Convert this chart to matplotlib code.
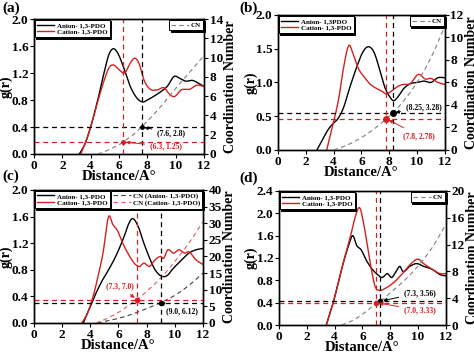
"""
Four panel g(r) / coordination number comparison, anion vs cation around 1,3-PDO.
"""
import numpy as np
import matplotlib
matplotlib.use('Agg')
import matplotlib.pyplot as plt

plt.rcParams['font.family'] = ['Liberation Serif', 'DejaVu Serif']
plt.rcParams['font.weight'] = 'bold'
plt.rcParams['axes.labelweight'] = 'bold'
plt.rcParams['axes.linewidth'] = 1.0

RED = '#d42020'
GRAY = '#808080'

# ---- panel (a)
a_an_x = [3.2, 3.6, 4.0, 4.5, 5.0, 5.3, 5.6, 5.9, 6.3, 6.8, 7.3, 7.7, 8.0, 8.5, 9.0, 9.4, 9.9, 10.3, 10.7, 11.2, 11.6, 12.0]
a_an_y = [0.0, 0.15, 0.4, 0.8, 1.25, 1.48, 1.56, 1.5, 1.3, 1.0, 0.82, 0.77, 0.8, 0.86, 0.93, 1.0, 1.15, 1.12, 1.08, 1.09, 1.05, 1.0]
a_ca_x = [3.3, 3.6, 4.0, 4.5, 5.0, 5.3, 5.6, 6.0, 6.4, 6.8, 7.1, 7.4, 7.8, 8.2, 8.7, 9.2, 9.5, 9.9, 10.4, 11.0, 11.5, 12.0]
a_ca_y = [0.0, 0.15, 0.4, 0.78, 1.12, 1.28, 1.32, 1.25, 1.2, 1.35, 1.42, 1.35, 1.08, 0.96, 0.95, 0.98, 0.9, 0.85, 0.95, 0.96, 1.02, 1.0]
a_cn_x = [4.5, 5.0, 5.5, 6.0, 6.3, 7.0, 7.6, 8.0, 9.0, 10.0, 11.0, 12.0]
a_cn_y = [0.0, 0.25, 0.6, 0.95, 1.25, 2.0, 2.8, 3.4, 5.0, 6.8, 8.5, 10.2]
a_pts = [(7.6, 2.8, '(7.6, 2.8)', 'k'), (6.3, 1.25, '(6.3, 1.25)', RED)]

# ---- panel (b)
b_an_x = [2.8, 3.2, 3.6, 4.0, 4.3, 4.7, 5.2, 5.7, 6.1, 6.5, 6.9, 7.3, 7.7, 8.0, 8.3, 8.6, 9.0, 9.5, 10.0, 10.5, 11.0, 11.5, 12.0]
b_an_y = [0.0, 0.15, 0.3, 0.4, 0.46, 0.62, 0.95, 1.25, 1.45, 1.53, 1.45, 1.2, 0.92, 0.8, 0.73, 0.78, 0.9, 0.98, 1.0, 1.02, 1.0, 1.07, 1.07]
b_ca_x = [3.5, 3.8, 4.1, 4.4, 4.7, 5.1, 5.4, 5.8, 6.2, 6.6, 7.0, 7.4, 7.8, 8.2, 8.6, 9.0, 9.5, 10.1, 10.6, 11.0, 11.5, 12.0]
b_ca_y = [0.0, 0.25, 0.5, 0.8, 1.2, 1.55, 1.42, 1.2, 1.08, 0.98, 0.92, 0.88, 0.83, 0.88, 0.94, 0.97, 0.98, 1.12, 1.05, 1.06, 1.0, 0.97]
b_cn_x = [4.0, 4.5, 5.0, 5.5, 6.0, 6.5, 7.0, 7.8, 8.25, 9.0, 10.0, 11.0, 12.0]
b_cn_y = [0.0, 0.2, 0.45, 0.75, 1.1, 1.5, 1.95, 2.78, 3.28, 4.3, 6.0, 8.2, 11.0]
b_pts = [(8.25, 3.28, '(8.25, 3.28)', 'k'), (7.8, 2.78, '(7.8, 2.78)', RED)]

# ---- panel (c)
c_an_x = [3.5, 3.8, 4.3, 4.8, 5.3, 5.8, 6.4, 6.7, 7.0, 7.4, 7.8, 8.2, 8.6, 9.1, 9.5, 9.8, 10.5, 11.0, 11.5, 12.0]
c_an_y = [0.0, 0.15, 0.4, 0.62, 0.8, 1.0, 1.3, 1.48, 1.57, 1.45, 1.2, 0.98, 0.8, 0.7, 0.72, 0.8, 0.95, 1.05, 1.1, 1.12]
c_ca_x = [3.4, 3.8, 4.2, 4.6, 4.9, 5.3, 5.6, 5.9, 6.3, 6.8, 7.2, 7.5, 7.8, 8.2, 8.6, 9.0, 9.2, 9.5, 9.9, 10.3, 10.7, 11.0, 11.5, 12.0]
c_ca_y = [0.0, 0.15, 0.4, 0.75, 1.05, 1.6, 1.48, 1.4, 1.2, 1.0, 0.88, 0.85, 0.9, 0.85, 0.95, 1.0, 0.97, 1.1, 1.05, 1.1, 1.05, 1.07, 0.95, 0.88]
c_cna_x = [4.5, 5.5, 6.5, 7.5, 8.5, 9.0, 10.0, 11.0, 12.0]
c_cna_y = [0.0, 0.9, 2.0, 3.5, 5.2, 6.12, 8.3, 11.3, 15.0]
c_cnc_x = [4.4, 5.0, 6.0, 6.8, 7.3, 8.0, 9.0, 10.0, 11.0, 12.0]
c_cnc_y = [0.0, 1.0, 3.2, 5.5, 7.0, 9.5, 13.5, 18.5, 24.0, 30.5]
c_pts = [(7.3, 7.0, '(7.3, 7.0)', RED), (9.0, 6.12, '(9.0, 6.12)', 'k')]

# ---- panel (d)
d_an_x = [3.4, 3.9, 4.5, 5.0, 5.3, 5.6, 5.9, 6.3, 6.7, 7.1, 7.4, 7.8, 8.1, 8.4, 8.7, 8.9, 9.4, 9.9, 10.4, 11.0, 11.6, 12.0]
d_an_y = [0.0, 0.4, 1.0, 1.42, 1.6, 1.42, 1.35, 1.15, 1.0, 0.9, 0.85, 0.92, 0.85, 0.95, 1.05, 0.96, 1.05, 1.1, 1.05, 1.0, 0.9, 0.88]
d_ca_x = [3.4, 3.9, 4.5, 5.1, 5.5, 5.8, 6.1, 6.5, 6.9, 7.2, 7.6, 8.2, 8.8, 9.5, 10.0, 10.4, 11.0, 11.6, 12.0]
d_ca_y = [0.0, 0.4, 1.0, 1.55, 1.95, 2.1, 1.8, 1.2, 0.7, 0.62, 0.65, 0.75, 0.9, 1.1, 1.18, 1.1, 1.0, 0.92, 0.92]
d_cn_x = [4.5, 5.0, 5.5, 6.0, 6.5, 7.0, 7.3, 8.0, 9.0, 10.0, 11.0, 12.0]
d_cn_y = [0.0, 0.4, 0.9, 1.6, 2.4, 3.33, 3.56, 4.8, 6.6, 8.8, 11.5, 15.0]
d_pts = [(7.3, 3.56, '(7.3, 3.56)', 'k'), (7.0, 3.33, '(7.0, 3.33)', RED)]


def smooth(xs, ys):
    # cubic hermite through the read points
    xs = np.asarray(xs, float)
    ys = np.asarray(ys, float)
    xx = np.linspace(xs[0], xs[-1], 400)
    n = len(xs)
    m = np.zeros(n)
    d = np.diff(ys) / np.diff(xs)
    m[0], m[-1] = d[0], d[-1]
    for i in range(1, n - 1):
        m[i] = 0.5 * (d[i - 1] + d[i])
    idx = np.clip(np.searchsorted(xs, xx) - 1, 0, n - 2)
    h = xs[idx + 1] - xs[idx]
    t = (xx - xs[idx]) / h
    yy = ((2*t**3 - 3*t**2 + 1) * ys[idx] + (t**3 - 2*t**2 + t) * h * m[idx]
          + (-2*t**3 + 3*t**2) * ys[idx + 1] + (t**3 - t**2) * h * m[idx + 1])
    return xx, yy


def bold_ticks(ax):
    for t in ax.get_xticklabels() + ax.get_yticklabels():
        t.set_fontweight('bold')


def panel(ax, an, ca, ymax, ystep, rmax, rstep, cns, pts, notes, an_lab='Anion- 1,3-PDO'):
    ax.plot(*smooth(*an), color='k', lw=1.0, label=an_lab)
    ax.plot(*smooth(*ca), color=RED, lw=1.0, label='Cation- 1,3-PDO')
    ax.set_xlim(0, 12)
    ax.set_ylim(0, ymax)
    ax.set_xticks(range(0, 13, 2))
    ax.set_yticks(np.arange(0, ymax + 1e-6, ystep))
    ax.yaxis.set_major_formatter(matplotlib.ticker.FormatStrFormatter('%.1f'))
    ax.set_ylabel('g(r)', fontsize=10, fontweight='bold', labelpad=-1)
    ax.set_xlabel('Distance/A°', fontsize=10.5, fontweight='bold', labelpad=-1)
    ax.tick_params(labelsize=9.5, pad=1, length=3, direction='out')
    bold_ticks(ax)
    r = ax.twinx()
    r.set_ylim(0, rmax)
    r.set_yticks(np.arange(0, rmax + 1e-6, rstep))
    r.tick_params(labelsize=9.5, pad=1, length=3)
    bold_ticks(r)
    r.set_ylabel('Coordination Number', fontsize=10, fontweight='bold', labelpad=1)
    for (cx, cy, col, lab) in cns:
        xx, yy = smooth(cx, cy)
        r.plot(xx, yy, ls=(0, (4, 3)), color=col, lw=0.8, label=lab)
    for (px, py, txt, col) in pts:
        r.axhline(py, color=col, ls=(0, (4, 3)), lw=0.9)
        r.axvline(px, color=col, ls=(0, (4, 3)), lw=0.9)
        r.plot(px, py, 'o', color=col, ms=notes['ms'])
    for (px, py, txt, col), (tx, ty) in zip(pts, notes['xy']):
        r.annotate(txt, xy=(px, py), xytext=(tx, ty), fontsize=5.5, color=col,
                   fontweight='bold',
                   arrowprops=dict(arrowstyle='-|>', color=col, lw=0.7, mutation_scale=5),
                   va='center', ha='left')
    return r


def style_leg(leg):
    leg.get_frame().set_edgecolor('k')
    leg.get_frame().set_linewidth(0.7)
    leg.get_frame().set_boxstyle('square', pad=0.1)
    for t in leg.get_texts():
        t.set_fontweight('bold')


fig = plt.figure(figsize=(4.74, 3.52), dpi=100)

axa = fig.add_axes([0.0717, 0.5625, 0.3586, 0.3835])
ra = panel(axa, (a_an_x, a_an_y), (a_ca_x, a_ca_y), 2.0, 0.4, 14, 2,
           [(a_cn_x, a_cn_y, GRAY, 'CN')], a_pts,
           {'ms': 2.5, 'xy': [(8.7, 2.2), (8.2, 0.8)]})

axb = fig.add_axes([0.5865, 0.574, 0.352, 0.3835])
rb = panel(axb, (b_an_x, b_an_y), (b_ca_x, b_ca_y), 2.0, 0.5, 12, 2,
           [(b_cn_x, b_cn_y, GRAY, 'CN')], b_pts,
           {'ms': 4, 'xy': [(9.2, 3.8), (9.0, 1.25)]}, an_lab='Anion- 1,3PDO')

axc = fig.add_axes([0.0717, 0.0824, 0.3565, 0.378])
rc = panel(axc, (c_an_x, c_an_y), (c_ca_x, c_ca_y), 2.0, 0.4, 40, 5,
           [(c_cna_x, c_cna_y, '#404040', 'CN (Anion- 1,3-PDO)'),
            (c_cnc_x, c_cnc_y, '#e06060', 'CN (Cation- 1,3-PDO)')], c_pts,
           {'ms': 3, 'xy': [(5.1, 11.1), (9.4, 3.6)]})

axd = fig.add_axes([0.5886, 0.0767, 0.352, 0.3807])
rd = panel(axd, (d_an_x, d_an_y), (d_ca_x, d_ca_y), 2.4, 0.4, 20, 4,
           [(d_cn_x, d_cn_y, GRAY, 'CN')], d_pts,
           {'ms': 3, 'xy': [(9.0, 4.8), (9.0, 2.2)]})

for ax, r in [(axa, ra), (axb, rb), (axc, rc), (axd, rd)]:
    leg = ax.legend(loc='upper left', fontsize=5, handlelength=2.5, borderaxespad=0.2,
                    handletextpad=0.3, labelspacing=0.1, borderpad=0.25, fancybox=False,
                    shadow={'color': 'k', 'alpha': 1, 'ox': 1.2, 'oy': -1.2})
    style_leg(leg)
    loc2 = 'upper left' if r is rc else 'upper right'
    kw = dict(bbox_to_anchor=(0.45, 1.0)) if r is rc else {}
    leg2 = r.legend(loc=loc2, fontsize=5, handlelength=2.5, borderaxespad=0.2,
                    handletextpad=0.3, labelspacing=0.1, borderpad=0.25, fancybox=False,
                    shadow={'color': 'k', 'alpha': 1, 'ox': 1.2, 'oy': -1.2}, **kw)
    style_leg(leg2)

fig.text(0.004, 0.996, '(a)', fontsize=11, fontweight='bold', va='top')
fig.text(0.506, 0.996, '(b)', fontsize=11, fontweight='bold', va='top')
fig.text(0.004, 0.518, '(c)', fontsize=11, fontweight='bold', va='top')
fig.text(0.506, 0.512, '(d)', fontsize=11, fontweight='bold', va='top')

fig.savefig('out.png', dpi=100)
